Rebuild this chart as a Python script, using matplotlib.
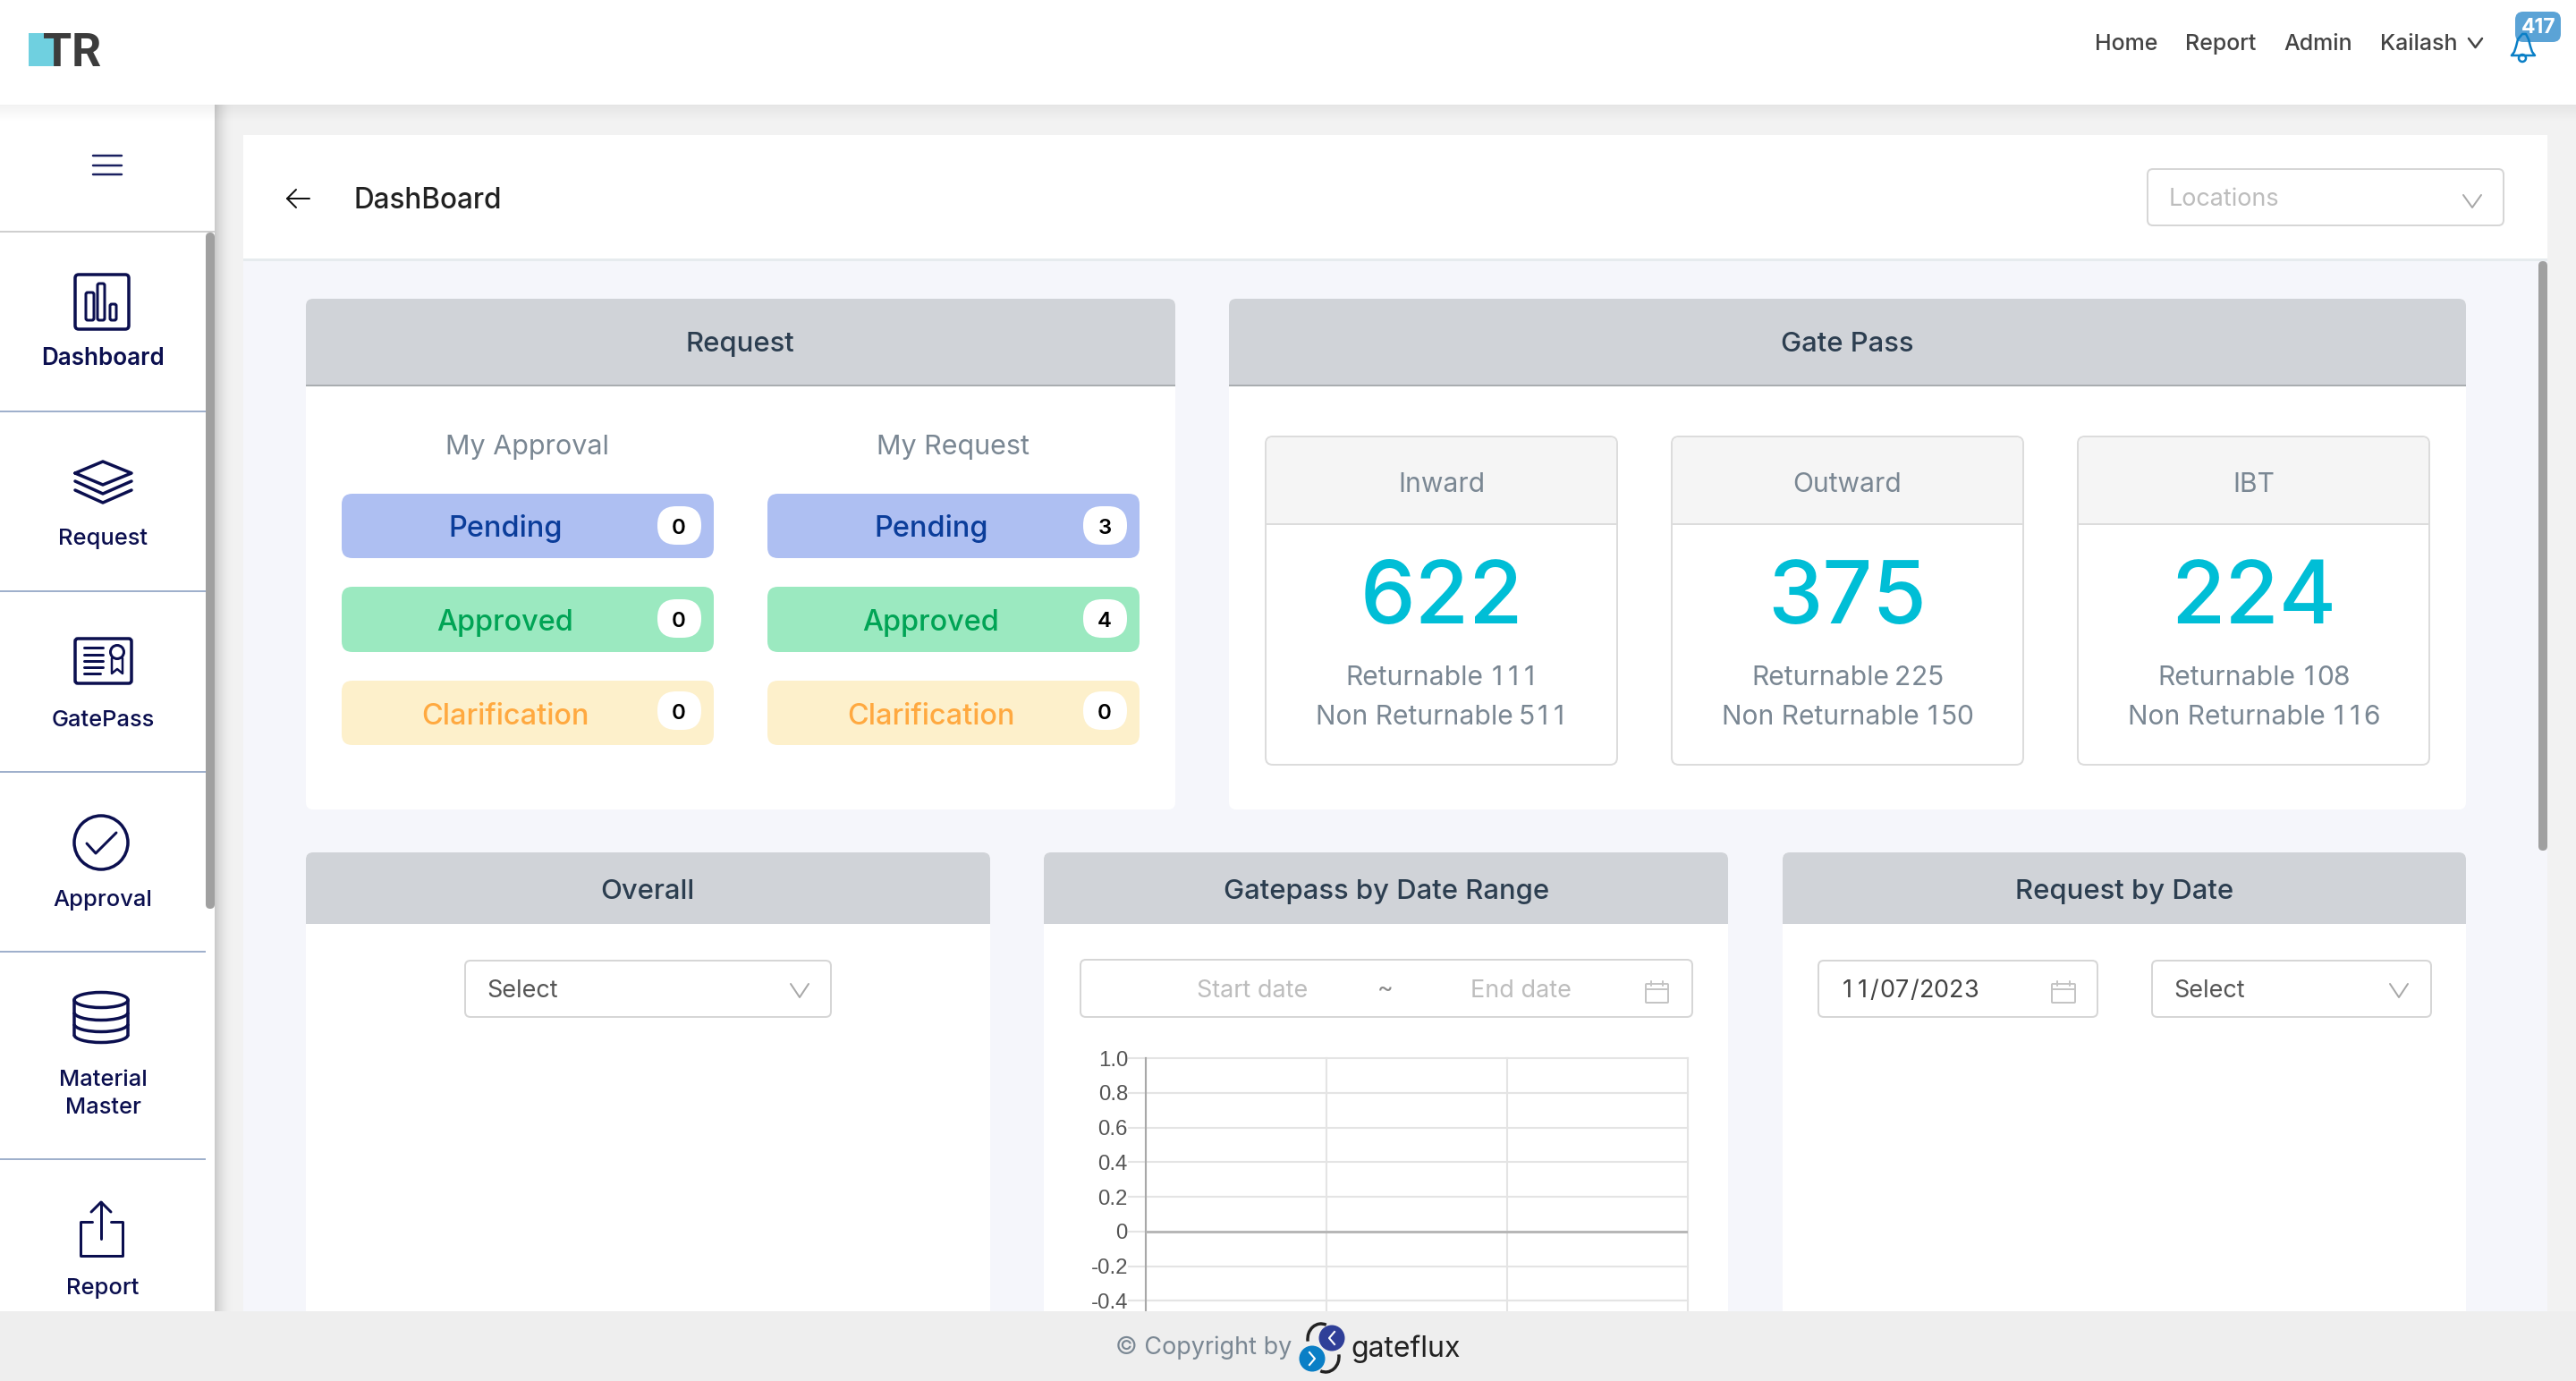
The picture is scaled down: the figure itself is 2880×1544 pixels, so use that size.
import matplotlib
matplotlib.use("Agg")
import matplotlib.pyplot as plt
from matplotlib.font_manager import FontProperties
from matplotlib.patches import FancyBboxPatch, Rectangle, Ellipse, Arc
from matplotlib.textpath import TextPath

W, H = 2880, 1544
INK = "#0b0f4f"
GRAY = "#7a8793"
HINT = "#bdbdbd"

plt.rcParams['font.family'] = ['Inter', 'DejaVu Sans']

# --- values ---
nav_links = ["Home", "Report", "Admin", "Kailash"]
notification_count = "417"
status_labels = ["Pending", "Approved", "Clarification"]
my_approval_counts = [0, 0, 0]
my_request_counts = [3, 4, 0]
pass_names = ["Inward", "Outward", "IBT"]
pass_totals = [622, 375, 224]
pass_returnable = [111, 225, 108]
pass_non_returnable = [511, 150, 116]
chart_ticks = [1.0, 0.8, 0.6, 0.4, 0.2, 0, -0.2, -0.4]
chart_tick_labels = ["1.0", "0.8", "0.6", "0.4", "0.2", "0", "-0.2", "-0.4"]
chart_categories = [0, 1, 2, 3]
request_date = "11/07/2023"

fig = plt.figure(figsize=(W / 100, H / 100), dpi=100)
ax = fig.add_axes([0, 0, 1, 1])
ax.set_xlim(0, W)
ax.set_ylim(H, 0)
ax.axis("off")


def rect(x0, y0, x1, y1, color, z=1, alpha=1):
    ax.add_patch(Rectangle((x0, y0), x1 - x0, y1 - y0, fc=color, ec="none", zorder=z, alpha=alpha))


def box(x0, y0, x1, y1, fc="white", ec="none", r=8, lw=2, z=2):
    ax.add_patch(FancyBboxPatch((x0, y0), x1 - x0, y1 - y0, boxstyle=f"round,pad=0,rounding_size={r}",
                                fc=fc, ec=ec, lw=lw * 0.72, zorder=z))


def txt(x, y, s, px, color, weight=400, ha="center", z=6, family=None):
    ax.text(x, y, s, fontsize=px * 0.72, color=color, fontweight=weight, ha=ha, va="baseline", zorder=z,
            family=family if family else plt.rcParams['font.family'])


def tab_txt(x, y, prefix, digits, px, color, cell=0.61, center=True):
    # the page uses tabular figures, so digits go one by one in equal cells
    prefix_w = 0
    if prefix:
        prefix_w = TextPath((0, 0), prefix, size=px, prop=FontProperties(family="Inter")).get_extents().x1 + 0.27 * px
    cells = [(0.42 if d == "/" else cell) * px for d in digits]
    start = x - (prefix_w + sum(cells)) / 2 if center else x
    if prefix:
        txt(start, y, prefix, px, color, ha="left")
    pos = start + prefix_w
    for d, c in zip(digits, cells):
        txt(pos + c / 2, y, d, px, color)
        pos += c


def line(xs, ys, color=INK, lw=3, z=5):
    ax.plot(xs, ys, color=color, lw=lw * 0.72, zorder=z, solid_capstyle="round", solid_joinstyle="round")


def chevron(x0, x1, y0, y1, color="#a8a8a8", lw=2):
    line([x0, (x0 + x1) / 2, x1], [y0, y1, y0], color, lw)


def calendar(x0, x1, y0, y1):
    box(x0, y0 + 3, x1, y1, fc="none", ec="#c4c4c4", r=1, lw=2, z=5)
    line([x0, x1], [y0 + 9, y0 + 9], "#c4c4c4", 2)
    line([x0 + 6, x0 + 6], [y0, y0 + 5], "#c4c4c4", 2)
    line([x1 - 6, x1 - 6], [y0, y0 + 5], "#c4c4c4", 2)


def dropdown(x0, y0, x1, y1, label, color, px=27):
    box(x0, y0, x1, y1, ec="#d6d6d6", r=6, lw=2, z=3)
    if label:
        txt(x0 + 24, y0 + 41, label, px, color, ha="left")


# page background
rect(0, 0, W, H, "#f2f2f2", 0)
rect(272, 291, 2848, 1466, "#f5f6fb", 0.5)

# sidebar
rect(0, 117, 240, 1466, "white", 1)
for i in range(22):
    rect(240 + i, 117, 241 + i, 1466, "#000000", 0.8, 0.16 * (1 - i / 22) ** 2)

# header with its shadow
for i in range(18):
    rect(0, 117 + i, W, 118 + i, "#000000", 1.2, 0.05 * (1 - i / 18))
rect(0, 0, W, 117, "white", 1.3)
rect(32, 37, 62, 74, "#6fd0e0", 2)
txt(81, 74, "TR", 52, "#3c3c3c", 700, family="Roboto")
for name, x in zip(nav_links, [2377, 2483, 2592, 2704]):
    txt(x, 56, name, 25, "#444444", 500)
chevron(2760, 2775, 43, 53, "#444444", 2.5)

# bell with badge
line([2808, 2811, 2813, 2815, 2820, 2824, 2827, 2829, 2831, 2834, 2808],
     [62, 58, 52, 44, 38, 38, 44, 52, 58, 62, 62], "#0a7fc6", 2.5)
ax.add_patch(Ellipse((2820, 65), 8, 8, fc="none", ec="#0a7fc6", lw=1.8, zorder=5))
box(2812, 13, 2863, 47, fc="#5ba3d6", r=9, z=4)
txt(2838, 37, notification_count, 23, "white", 700)

rect(0, 258, 240, 260, "#cfcfcf", 2)
for y in [460, 661, 863, 1064, 1296]:
    rect(0, y - 1, 230, y + 1, "#9fb0cc", 2)
box(230, 260, 240, 1016, fc="#a0a0a0", r=5, z=3)
for y in [174, 185, 195]:
    line([104, 136], [y, y], "#1a2060", 2.5)

# dashboard icon
box(84, 307, 144, 368, fc="none", ec=INK, r=4, lw=3.5, z=5)
box(96, 327, 105, 358, fc="none", ec=INK, r=2, lw=3, z=5)
box(109, 317, 117, 358, fc="none", ec=INK, r=2, lw=3, z=5)
box(123, 340, 130, 358, fc="none", ec=INK, r=2, lw=3, z=5)
# request icon
line([84, 115, 147, 115, 84], [529, 516, 529, 542, 529], INK, 3.5)
line([84, 115, 147], [538, 552, 538], INK, 3.5)
line([84, 115, 147], [548, 562, 548], INK, 3.5)
# gatepass icon
box(84, 714, 147, 764, fc="none", ec=INK, r=3, lw=3.5, z=5)
for y, x1 in zip([724, 732, 739, 746, 753], [115, 115, 115, 115, 112]):
    line([94, x1], [y, y], INK, 3)
ax.add_patch(Ellipse((131, 729), 15, 15, fc="none", ec=INK, lw=3 * 0.72, zorder=5))
line([125, 125, 131, 137, 137], [736, 753, 748, 753, 736], INK, 2.5)
# approval icon
ax.add_patch(Ellipse((113, 942), 60, 60, fc="none", ec=INK, lw=3.5 * 0.72, zorder=5))
line([97, 107, 130], [943, 954, 931])
# material master icon
ax.add_patch(Ellipse((113, 1118), 60, 17, fc="none", ec=INK, lw=3.5 * 0.72, zorder=5))
for y in [1132, 1145, 1157]:
    ax.add_patch(Arc((113, y), 60, 17, theta1=0, theta2=180, ec=INK, lw=3.5 * 0.72, zorder=5))
line([83, 83], [1118, 1157], INK, 3.5)
line([143, 143], [1118, 1157], INK, 3.5)
# report icon
line([103, 90, 90, 137, 137, 124], [1366, 1366, 1404, 1404, 1366, 1366])
line([113, 113], [1344, 1385])
line([102, 113, 124], [1355, 1344, 1355])

txt(115, 408, "Dashboard", 26, INK, 600)
txt(115, 609, "Request", 25.5, INK, 500)
txt(115, 812, "GatePass", 25.5, INK, 500)
txt(115, 1013, "Approval", 25.5, INK, 500)
txt(115, 1214, "Material", 25.5, INK, 500)
txt(115, 1245, "Master", 25.5, INK, 500)
txt(115, 1447, "Report", 25.5, INK, 500)

# title bar
rect(272, 151, 2848, 290, "white", 1)
rect(272, 289, 2848, 292, "#e6ebee", 1.5)
line([321, 346], [222, 222], "#111111", 2)
line([331, 321, 331], [212, 222, 232], "#111111", 2)
txt(396, 233, "DashBoard", 31.5, "#222222", 500, ha="left")
dropdown(2401, 189, 2799, 252, "Locations", HINT)
chevron(2754, 2774, 218, 232)
box(2838, 292, 2848, 951, fc="#a0a0a0", r=5, z=3)


def card(x0, y0, x1, y1, head_bottom, title, title_x, base, rule=True):
    head = "#d0d3d8"
    box(x0, y0, x1, y1, r=8, z=1.5)
    box(x0, y0, x1, y0 + 30, fc=head, r=8, z=2)
    rect(x0, y0 + 15, x1, head_bottom, head, 2)
    if rule:
        rect(x0, head_bottom - 1, x1, head_bottom + 1, "#a9adb0", 2.5)
    txt(title_x, base, title, 31, "#2c3e50", 500)


card(342, 334, 1314, 905, 431, "Request", 827, 393)
card(1374, 334, 2757, 905, 431, "Gate Pass", 2065, 393)
txt(590, 508, "My Approval", 30.5, GRAY)
txt(1066, 508, "My Request", 30.5, GRAY)

# status pills
pill_tops = [552, 656, 761]
pill_bottoms = [624, 729, 833]
label_base = [600, 705, 810]
count_base = [597, 701, 804]
pill_bg = ["#aebff2", "#9be9c0", "#fdf0cb"]
pill_fg = ["#0b3d9a", "#00a455", "#ffa940"]
for x0, x1, counts in [(382, 798, my_approval_counts), (858, 1274, my_request_counts)]:
    for i, label in enumerate(status_labels):
        box(x0, pill_tops[i], x1, pill_bottoms[i], fc=pill_bg[i], r=12, z=3)
        txt((x0 + x1 - 60) / 2 + 5, label_base[i], label, 32.5, pill_fg[i], 500)
        box(x1 - 63, count_base[i] - 31, x1 - 14, count_base[i] + 12, fc="white", r=21, z=4)
        txt(x1 - 39, count_base[i], str(counts[i]), 24, "black", 600)

# gate pass boxes
for i, x0 in enumerate([1415, 1869, 2323]):
    x1 = x0 + 393
    xc = (x0 + x1) / 2
    box(x0, 488, x1, 855, ec="#dcdcdc", r=8, lw=2, z=3)
    box(x0 + 1, 489, x1 - 1, 520, fc="#f5f5f5", r=8, z=3.1)
    rect(x0 + 1, 505, x1 - 1, 586, "#f5f5f5", 3.1)
    rect(x0, 585, x1, 587, "#dcdcdc", 3.2)
    txt(xc, 550, pass_names[i], 30, GRAY)
    txt(xc, 697, str(pass_totals[i]), 98, "#00bed6", 500)
    tab_txt(xc, 766, "Returnable", str(pass_returnable[i]), 30, GRAY)
    tab_txt(xc, 810, "Non Returnable", str(pass_non_returnable[i]), 30, GRAY)

# lower cards, cut off by the footer
card(342, 953, 1107, 1480, 1033, "Overall", 724, 1005, rule=False)
card(1167, 953, 1932, 1480, 1033, "Gatepass by Date Range", 1550, 1005, rule=False)
card(1993, 953, 2757, 1480, 1033, "Request by Date", 2375, 1005, rule=False)
for x0, x1, y0, y1 in [(342, 1107, 1033, 1480), (1167, 1932, 1033, 1480), (1993, 2757, 1033, 1480)]:
    rect(x0, y0, x1, y1, "white", 2.6)

dropdown(520, 1074, 929, 1137, "Select", "#555555")
chevron(884, 904, 1100, 1115)
dropdown(1208, 1073, 1892, 1137, "", HINT)
txt(1400, 1115, "Start date", 27, HINT)
txt(1549, 1113, "~", 27, "#888888")
txt(1700, 1115, "End date", 27, HINT)
calendar(1840, 1865, 1097, 1121)
dropdown(2033, 1074, 2345, 1137, "", "#444444")
tab_txt(2057, 1115, "", request_date, 27, "#444444", center=False)
calendar(2294, 2320, 1097, 1121)
dropdown(2406, 1074, 2718, 1137, "Select", "#555555")
chevron(2672, 2692, 1100, 1115)

# empty line chart, cut off by the footer
chart = fig.add_axes([1281 / W, 1 - 1466 / H, (1887 - 1281) / W, (1466 - 1183) / H], zorder=3)
chart.patch.set_alpha(0)
chart.set_xlim(chart_categories[0], chart_categories[-1])
chart.set_ylim(-0.46, 1.0)
chart.set_yticks(chart_ticks)
chart.set_yticklabels(chart_tick_labels, family="Liberation Sans", fontsize=24 * 0.72, color="#555555")
chart.set_xticks(chart_categories)
chart.tick_params(axis="x", length=0, labelbottom=False)
chart.tick_params(axis="y", length=14.4, width=1.5, color="#e4e4e4", pad=0)
chart.grid(True, color="#e4e4e4", lw=1.5)
for g in chart.get_ygridlines() + chart.get_xgridlines():
    g.set_clip_on(False)
chart.axhline(0, color="#b4b4b4", lw=2, zorder=3)
for side in ["top", "right", "bottom"]:
    chart.spines[side].set_visible(False)
chart.spines["left"].set_color("#a8a8a8")
chart.spines["left"].set_linewidth(1.5)

# footer in its own layer so it hides the chart
foot = fig.add_axes([0, 0, 1, 1], zorder=4)
foot.set_xlim(0, W)
foot.set_ylim(H, 0)
foot.axis("off")
foot.add_patch(Rectangle((0, 1466), W, H - 1466, fc="#eeeeee", ec="none"))
foot.text(1247, 1514, "© Copyright by", fontsize=27 * 0.72, color=GRAY, ha="left", va="baseline")
foot.add_patch(Arc((1477, 1497), 30, 34, theta1=170, theta2=290, ec="#222222", lw=2.5))
foot.add_patch(Arc((1482, 1517), 30, 34, theta1=-10, theta2=110, ec="#222222", lw=2.5))
foot.add_patch(Ellipse((1489, 1496), 29, 29, fc="#2f3f98", ec="none", zorder=3))
foot.add_patch(Ellipse((1467, 1519), 29, 29, fc="#0a7fc6", ec="none", zorder=3))
foot.plot([1492, 1486, 1492], [1489, 1496, 1503], color="white", lw=1.5, zorder=4)
foot.plot([1464, 1470, 1464], [1512, 1519, 1526], color="white", lw=1.5, zorder=4)
foot.text(1510, 1517, "gateflux", fontsize=32 * 0.72, color="#222222", ha="left", va="baseline")

fig.savefig("out.png", dpi=100)
